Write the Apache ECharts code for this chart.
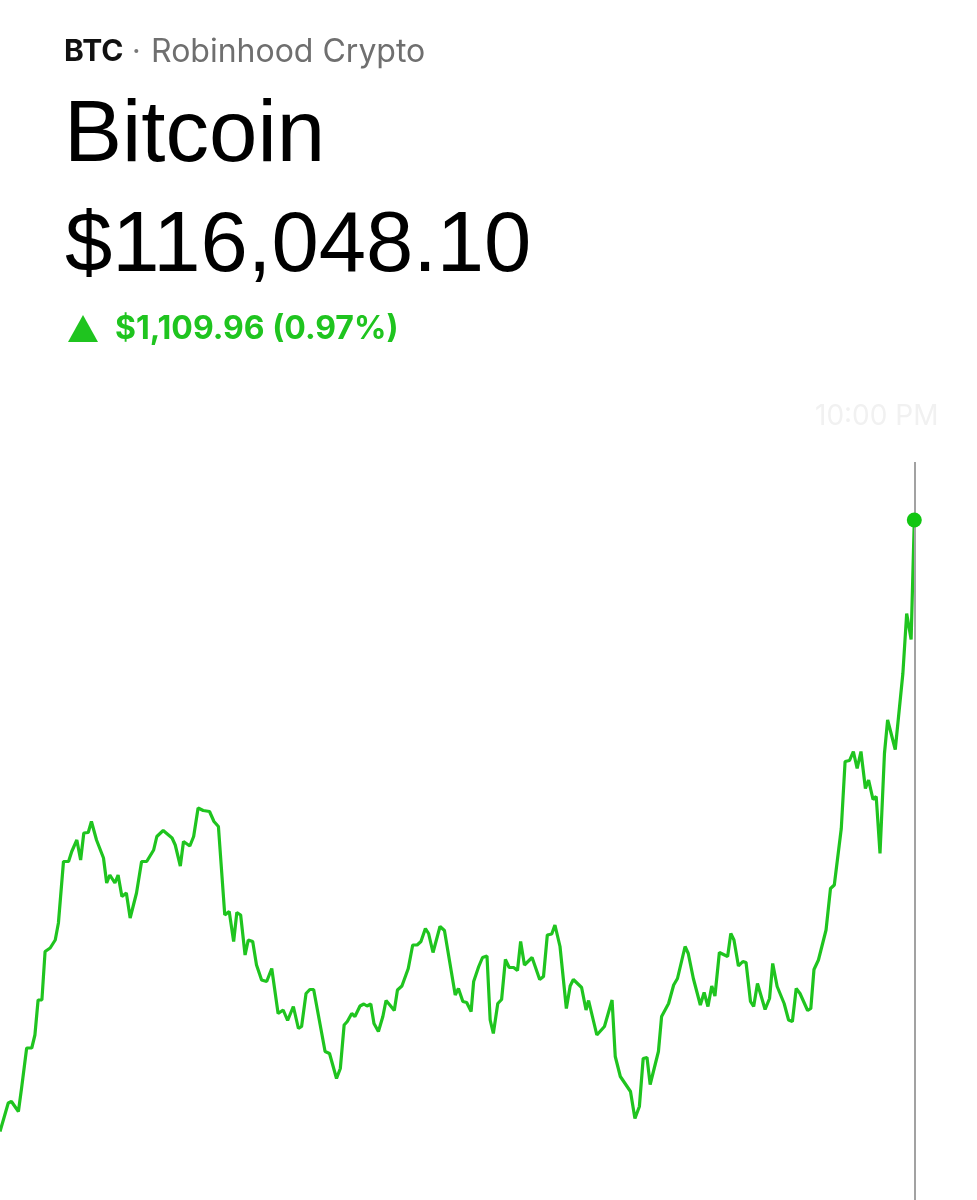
<!DOCTYPE html>
<html>
<head>
<meta charset="utf-8">
<script src="https://cdn.jsdelivr.net/npm/echarts@6/dist/echarts.min.js"></script>
<style>
html,body{margin:0;padding:0;background:#fff;}
#chart{width:977px;height:1200px;}
</style>
</head>
<body>
<div id="chart"></div>
<script>
// Minutes since start of the 24h window
const minutes = [0,13,18,29,34,42,50,55,60,66,71,79,87,92,100,108,113,121,127,132,139,144,152,163,168,173,181,186,192,199,205,215,223,231,242,247,257,271,276,284,289,299,305,312,320,330,337,344,354,361,368,373,379,386,391,398,404,412,420,428,438,446,453,462,470,475,482,488,494,512,519,530,536,542,547,554,559,567,573,578,584,589,596,603,608,614,621,626,633,643,650,657,663,670,675,682,693,700,717,722,729,735,742,746,754,760,767,772,777,784,790,796,802,809,815,820,826,838,850,856,862,869,874,882,892,898,903,916,923,927,940,952,964,969,977,993,1000,1007,1013,1019,1024,1037,1042,1053,1061,1067,1079,1084,1092,1103,1109,1115,1121,1126,1133,1146,1151,1156,1163,1170,1175,1182,1187,1193,1205,1212,1217,1224,1235,1242,1248,1254,1260,1272,1277,1282,1289,1301,1308,1314,1325,1331,1338,1344,1350,1356,1363,1368,1375,1380,1386,1393,1398,1410,1422,1428,1435,1440];
// BTC price (USD)
const prices = [114825,114882,114885,114865,114912,114992,114992,115018,115088,115088,115185,115192,115208,115242,115365,115365,115385,115408,115368,115422,115423,115445,115408,115372,115322,115338,115322,115338,115295,115302,115252,115302,115365,115365,115388,115415,115427,115412,115398,115356,115405,115396,115415,115472,115467,115465,115445,115435,115258,115265,115205,115263,115258,115178,115208,115205,115158,115128,115125,115151,115061,115068,115047,115075,115031,115035,115101,115109,115109,114985,114981,114931,114951,115038,115045,115061,115055,115076,115080,115076,115080,115041,115025,115055,115087,115078,115067,115108,115116,115151,115198,115198,115205,115231,115221,115183,115235,115227,115098,115111,115085,115083,115065,115125,115155,115173,115176,115048,115021,115081,115089,115169,115153,115153,115147,115205,115158,115173,115129,115135,115218,115220,115238,115195,115071,115116,115129,115113,115068,115087,115018,115035,115088,114975,114935,114905,114851,114875,114971,114973,114919,114985,115055,115081,115118,115131,115195,115181,115131,115078,115103,115075,115116,115096,115183,115175,115221,115208,115156,115165,115163,115085,115075,115121,115069,115091,115161,115115,115081,115048,115045,115111,115101,115067,115071,115149,115168,115228,115311,115318,115431,115565,115567,115585,115551,115585,115511,115528,115489,115495,115381,115581,115648,115589,115741,115861,115809,116048.10];
const lastPrice = 116048.10;
const symbol = 'BTC';
const exchange = 'Robinhood Crypto';
const assetName = 'Bitcoin';
const priceText = '$116,048.10';
const changeText = '$1,109.96 (0.97%)';
const timeLabel = '10:00 PM';

const GREEN = '#1fc41f';
const chart = echarts.init(document.getElementById('chart'), null, {renderer: 'canvas'});
const lineData = minutes.map((m, i) => [m, prices[i]]);

chart.setOption({
  animation: false,
  backgroundColor: '#ffffff',
  grid: {left: 0, right: 62.7, top: 400, bottom: 0},
  xAxis: {type: 'value', min: 0, max: 1440, show: false},
  yAxis: {type: 'value', min: 114688, max: 116288, show: false},
  graphic: [
    {type: 'text', left: 64, top: 37, style: {text: symbol, font: 'bold 30px Inter', fill: '#111111'}},
    {type: 'text', left: 132, top: 37, style: {text: '·', font: '30px Inter', fill: '#777777'}},
    {type: 'text', left: 151, top: 36, style: {text: exchange, font: '32px Inter', fill: '#6f6f6f'}},
    {type: 'text', left: 64, top: 94, style: {text: assetName, font: '87px "Liberation Sans"', fill: '#000000'}},
    {type: 'text', left: 65, top: 205, style: {text: priceText, font: '85px "Liberation Sans"', fill: '#000000'}},
    {type: 'polygon', shape: {points: [[68, 342], [98, 342], [83, 315]]}, style: {fill: GREEN}},
    {type: 'text', left: 115, top: 313, style: {text: changeText, font: 'bold 32px Inter', fill: GREEN}},
    {type: 'text', left: 815, top: 403, style: {text: timeLabel, font: '28px Inter', fill: '#f1f1f1'}}
  ],
  series: [
    {
      type: 'line',
      data: lineData,
      showSymbol: false,
      symbol: 'none',
      lineStyle: {color: GREEN, width: 3.2},
      silent: true,
      clip: false,
      markLine: {
        silent: true,
        symbol: 'none',
        label: {show: false},
        lineStyle: {color: '#a2a2a2', width: 2, type: 'solid'},
        data: [[{coord: [1440, 116164]}, {coord: [1440, 114688]}]]
      },
      z: 3
    },
    {
      type: 'scatter',
      data: [[1440, lastPrice]],
      symbolSize: 15,
      itemStyle: {color: '#12c612', opacity: 1},
      silent: true,
      z: 5
    }
  ]
});
</script>
</body>
</html>
